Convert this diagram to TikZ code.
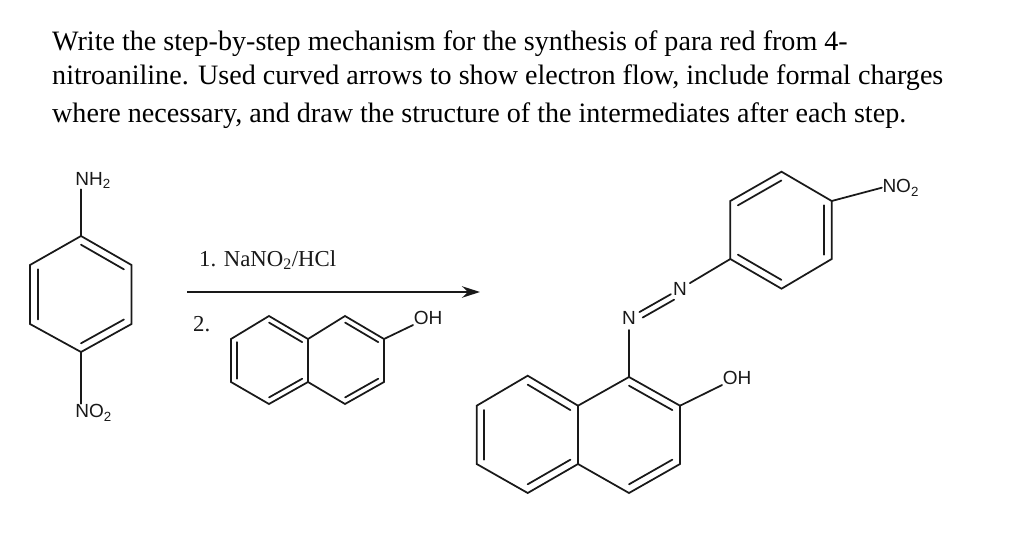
\documentclass[tikz,border=0pt]{standalone}
\usepackage{fontspec}
\setmainfont{Liberation Serif}
\setsansfont{Liberation Sans}
\usetikzlibrary{calc,arrows.meta}
\newcommand{\innerbond}[3]{\draw[bond] ($(#1)!0.15!(#3)$) -- ($(#2)!0.15!(#3)$);}
\newcommand{\ringbonds}[6]{\draw[bond,line join=miter] (#1) -- (#2) -- (#3) -- (#4) -- (#5) -- (#6) -- cycle;}
\tikzset{
  bond/.style={draw=black!90,line width=1.75pt,line cap=round},
  atomlabel/.style={font=\fontsize{19}{20}\sffamily,inner sep=0.5pt,text=black!90},
  bodytext/.style={font=\fontsize{28.1}{30}\selectfont,inner sep=0pt,anchor=base west,text=black},
  reagent/.style={font=\fontsize{22.8}{24}\selectfont,inner sep=0pt,anchor=base west,text=black!90},
  rxnarrow/.style={draw=black!90,line width=1.75pt,-{Stealth[length=18pt,width=11.5pt,inset=6pt]}}
}
\begin{document}
\begin{tikzpicture}[x=1pt,y=-1pt]
\useasboundingbox (0,0) rectangle (1024,541);
\fill[white] (0,0) rectangle (1024,541);
% question text
\node[bodytext] (l1) at (52,50) {Write the step-by-step mechanism for the synthesis of para red from 4-};
\node[bodytext] (l2) at (52,84) {nitroaniline. Used curved arrows to show electron flow, include formal charges};
\node[bodytext] (l3) at (52,122) {where necessary, and draw the structure of the intermediates after each step.};
% 4-nitroaniline
\coordinate (at) at (81,236); \coordinate (aur) at (131.5,265); \coordinate (alr) at (131.5,324);
\coordinate (ab) at (81,352); \coordinate (all) at (30,324); \coordinate (aul) at (30,265);
\coordinate (ac) at (81,294);
\ringbonds{at}{aur}{alr}{ab}{all}{aul}
\innerbond{at}{aur}{ac}\innerbond{alr}{ab}{ac}\innerbond{all}{aul}{ac}
\node[atomlabel] (nh2) at (93,180.5) {NH\textsubscript{2}};
\node[atomlabel] (ano2) at (93.5,412.7) {NO\textsubscript{2}};
\draw[bond] (at) -- (at |- nh2.south);
\draw[bond] (ab) -- (ab |- ano2.north);
% arrow and reagents
\coordinate (arrs) at (187,292); \coordinate (arre) at (480,292);
\draw[rxnarrow] (arrs) -- (arre);
\node[reagent] (r1) at (199,266) {1. NaNO\textsubscript{2}/HCl};
\node[reagent] (r2) at (193,331) {2.};
% 2-naphthol
\coordinate (n1) at (269,316); \coordinate (n2) at (308,339); \coordinate (n3) at (308,382);
\coordinate (n4) at (269,404); \coordinate (n5) at (231,382); \coordinate (n6) at (231,339);
\coordinate (n7) at (345,316); \coordinate (n8) at (384,339); \coordinate (n9) at (384,382);
\coordinate (n10) at (345,404);
\coordinate (nc1) at (269.5,360); \coordinate (nc2) at (346,360);
\ringbonds{n1}{n2}{n3}{n4}{n5}{n6}
\ringbonds{n2}{n7}{n8}{n9}{n10}{n3}
\innerbond{n1}{n2}{nc1}\innerbond{n3}{n4}{nc1}\innerbond{n5}{n6}{nc1}
\innerbond{n7}{n8}{nc2}\innerbond{n9}{n10}{nc2}
\node[atomlabel] (noh) at (428,317.6) {OH};
\draw[bond] (n8) -- (noh.south west);
% para red: nitrophenyl ring
\coordinate (pt) at (781.5,171.7); \coordinate (pur) at (831.7,201); \coordinate (plr) at (831.7,259);
\coordinate (pb) at (781.5,288.7); \coordinate (pll) at (730.3,259); \coordinate (pul) at (730.3,201);
\coordinate (pc) at (781,230);
\ringbonds{pt}{pur}{plr}{pb}{pll}{pul}
\innerbond{pul}{pt}{pc}\innerbond{pur}{plr}{pc}\innerbond{pll}{pb}{pc}
\node[atomlabel] (pno2) at (900.7,187.7) {NO\textsubscript{2}};
\draw[bond] (pur) -- (pno2.west);
% azo group
\node[atomlabel] (na) at (680,289) {N};
\node[atomlabel] (nb) at (629,318) {N};
\draw[bond,shorten <=12pt,shorten >=10.5pt] (nb.center) -- (na.center);
\draw[bond,shorten <=12pt,shorten >=10.5pt] ([shift={(3.2,5.5)}]nb.center) -- ([shift={(3.2,5.5)}]na.center);
\draw[bond,shorten <=11.5pt] (na.center) -- (pll);
% para red: naphthol
\coordinate (c1) at (629,377); \coordinate (c2) at (680,405.7); \coordinate (c3) at (680,464);
\coordinate (c4) at (629,493); \coordinate (c4a) at (578,464); \coordinate (c8a) at (578,405.7);
\coordinate (c8) at (527.7,375.7); \coordinate (c7) at (476.7,405.7); \coordinate (c6) at (476.7,464);
\coordinate (c5) at (527.7,493);
\coordinate (cc1) at (629,435); \coordinate (cc2) at (527.5,435);
\ringbonds{c1}{c2}{c3}{c4}{c4a}{c8a}
\ringbonds{c8a}{c8}{c7}{c6}{c5}{c4a}
\innerbond{c1}{c2}{cc1}\innerbond{c3}{c4}{cc1}
\innerbond{c8}{c8a}{cc2}\innerbond{c7}{c6}{cc2}\innerbond{c5}{c4a}{cc2}
\draw[bond,shorten <=12pt] (nb.center) -- (c1);
\node[atomlabel] (poh) at (737,377.6) {OH};
\draw[bond] (c2) -- (poh.south west);
\end{tikzpicture}
\end{document}
